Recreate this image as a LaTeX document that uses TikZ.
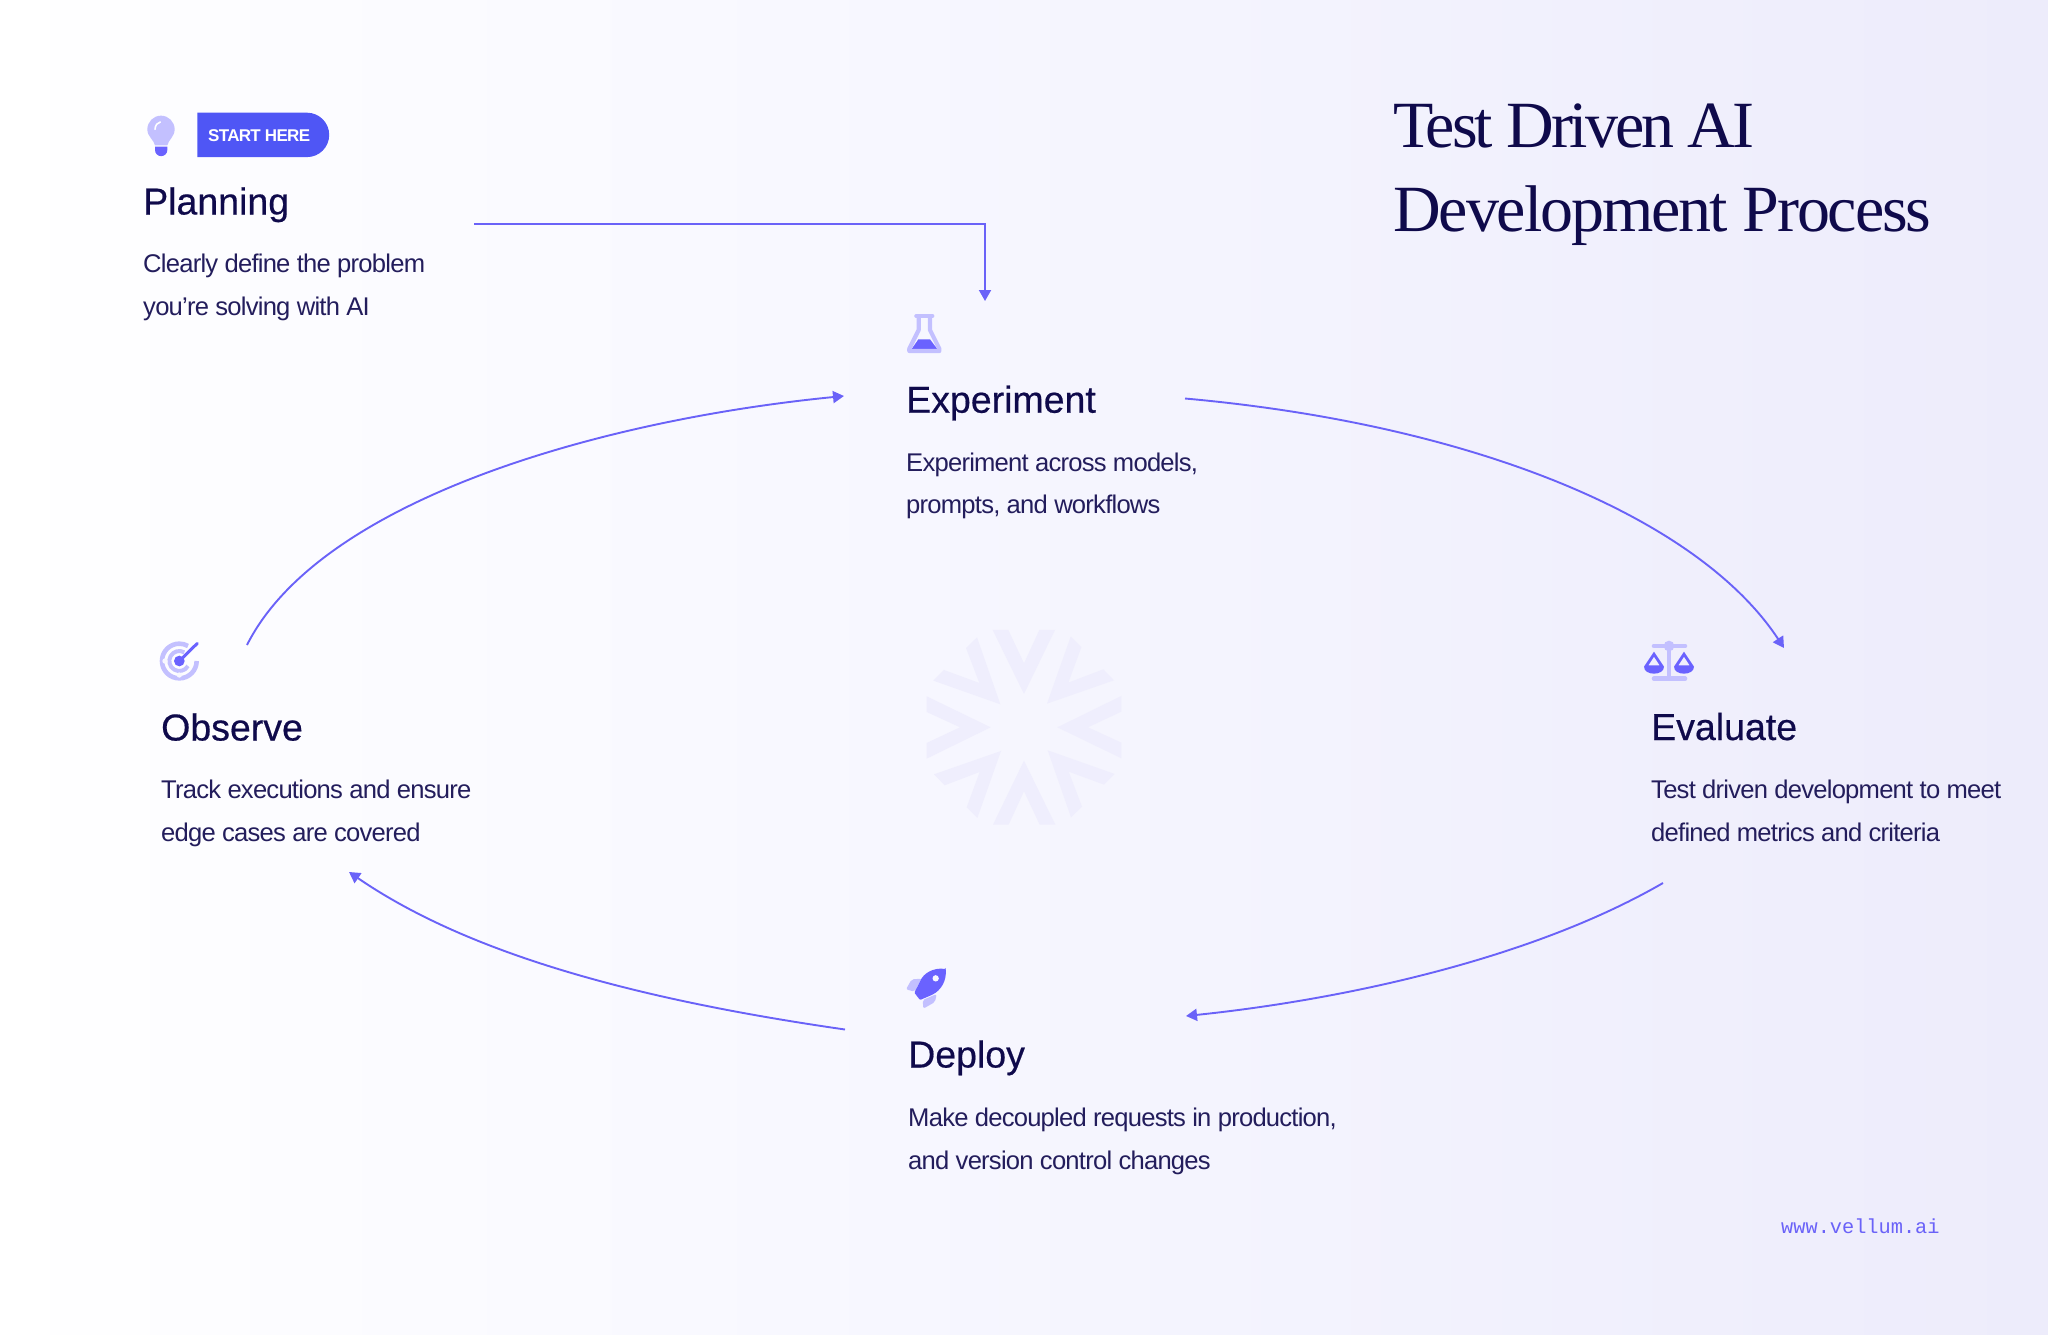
\documentclass[tikz,border=0pt]{standalone}
\usepackage{fontspec}
\setmainfont{Liberation Sans}
\newfontfamily\bodyfont[LetterSpace=-3.0]{Liberation Sans}
\newfontfamily\headfont[FakeBold=0.45]{Liberation Sans}
\newfontfamily\badgefont[LetterSpace=-4]{Liberation Sans Bold}
\newfontfamily\titlefonta[LetterSpace=-4.66]{Liberation Serif}
\newfontfamily\titlefontb[LetterSpace=-3.15]{Liberation Serif}
\newfontfamily\urlfont{Liberation Mono}
\usetikzlibrary{arrows.meta,calc}
\definecolor{ink}{HTML}{0F0A4B}
\definecolor{bodyink}{HTML}{231D5C}
\definecolor{flow}{HTML}{6A62F8}
\definecolor{iconlight}{HTML}{C3C0FF}
\definecolor{icondark}{HTML}{6A62FF}
\definecolor{badgeblue}{HTML}{4F56F5}
\definecolor{logotint}{HTML}{EFEEFD}
\definecolor{holetint}{HTML}{F8F8FF}
\definecolor{gradA}{HTML}{FCFCFF}
\definecolor{gradB}{HTML}{F8F8FF}
\definecolor{gradC}{HTML}{F4F4FE}
\definecolor{gradD}{HTML}{EFEEFC}
\definecolor{gradE}{HTML}{EDECFB}
\pgfdeclarehorizontalshading{pagegrad}{100bp}{
  color(0bp)=(white);
  color(25bp)=(white);
  color(32.3bp)=(gradA);
  color(44.5bp)=(gradB);
  color(54.3bp)=(gradC);
  color(69bp)=(gradD);
  color(75bp)=(gradE);
  color(100bp)=(gradE)}
\tikzset{
  headtext/.style={anchor=base west,inner sep=0pt,text=ink,font=\fontsize{37.5}{37}\selectfont\headfont},
  bodytext/.style={anchor=base west,inner sep=0pt,text=bodyink,font=\fontsize{25.6}{43}\selectfont\bodyfont},
  titletexta/.style={anchor=base west,inner sep=0pt,text=ink,font=\fontsize{66}{89}\selectfont\titlefonta},
  titletextb/.style={anchor=base west,inner sep=0pt,text=ink,font=\fontsize{66}{89}\selectfont\titlefontb},
  flowline/.style={draw=flow,line width=1.9pt,-{Stealth[inset=0pt,length=11pt,width=12pt]}},
}
\begin{document}
\begin{tikzpicture}[x=1pt,y=-1pt]
\useasboundingbox (0,0) rectangle (2048,1335);
\shade[shading=pagegrad] (0,0) rectangle (2048,1335);

% logo
\begin{scope}[shift={(1024,727.3)},scale=1/3]
\foreach \a in {0,90,180,270}{
  \fill[logotint,rotate=\a] (-94,-292)--(-47,-292)--(0,-192)--(46,-292)--(93,-292)--(0,-100)--cycle;
  \fill[logotint,rotate=\a] (140,-272)--(172,-240)--(133,-134)--(238,-174)--(270,-141)--(69,-71)--cycle;
}
\end{scope}

% title
\node[titletexta] (title1) at (1393,147.5) {Test Driven AI};
\node[titletextb] (title2) at (1393,231) {Development Process};

% planning
\begin{scope}[shift={(120,90)},scale=1/3]
  \fill[iconlight] (82,118) arc[start angle=180,end angle=360,radius=41]
     .. controls (164,140) and (145,150) .. (142,166) -- (105,166) .. controls (102,150) and (82,140) .. (82,118) -- cycle;
  \fill[icondark] (105,170) -- (142,170) -- (142,180) arc[start angle=0,end angle=180,radius=18.5] -- cycle;
  \draw[white,line width=1.6pt,line cap=round] (105,118) .. controls (106,105) and (112,98) .. (121,96);
\end{scope}
\fill[badgeblue] (197.3,112.7) -- (307,112.7) arc[start angle=-90,end angle=90,radius=22.2] -- (197.3,157.1) -- cycle;
\node[anchor=base west,inner sep=0pt,text=white,font=\fontsize{17}{17}\selectfont\badgefont] (badgetext) at (208,142) {START HERE};
\node[headtext] (planning) at (143,214.5) {Planning};
\node[bodytext] (planbody1) at (143,272) {Clearly define the problem};
\node[bodytext] (planbody2) at (143,315) {you’re solving with AI};

% experiment
\begin{scope}[shift={(880,280)},scale=1/3]
  \fill[icondark] (115,178)--(150,178)--(172,207)--(95,207)--cycle;
  \draw[iconlight,line width=4.2pt,line cap=round,line join=round] (109,108)--(157,108);
  \draw[iconlight,line width=4.2pt,line join=round] (116,108)--(116,150)--(88,206)--(88,213)--(178,213)--(178,206)--(150,150)--(150,108);
\end{scope}
\node[headtext] (experiment) at (906,412.7) {Experiment};
\node[bodytext] (expbody1) at (906,471.5) {Experiment across models,};
\node[bodytext] (expbody2) at (906,513) {prompts, and workflows};

% evaluate
\begin{scope}[shift={(1620,620)},scale=1/3]
  \draw[iconlight,line width=4.6pt,line cap=round] (102,78)--(195,78);
  \fill[iconlight] (147,78) circle (16);
  \draw[iconlight,line width=3.4pt] (147,78)--(147,175);
  \draw[iconlight,line width=4.6pt,line cap=round] (102,176)--(195,176);
  \foreach \dx in {0,90}{
    \fill[icondark,even odd rule] (102+\dx,95) -- (72+\dx,140) .. controls (72+\dx,168) and (132+\dx,168) .. (132+\dx,140) -- cycle
       (102+\dx,110) -- (85+\dx,136) -- (119+\dx,136) -- cycle;
  }
\end{scope}
\node[headtext] (evaluate) at (1651,740) {Evaluate};
\node[bodytext] (evalbody1) at (1651,798) {Test driven development to meet};
\node[bodytext] (evalbody2) at (1651,841) {defined metrics and criteria};

% observe
\begin{scope}[shift={(140,620)},scale=1/3]
  \coordinate (rc) at (118,123);
  \draw[iconlight,line width=4.6pt] (170,123) arc[start angle=0,end angle=300,radius=52];
  \draw[iconlight,line width=4pt] ($(rc)+(30:30)$) arc[start angle=30,end angle=300,radius=30];
  \fill[holetint] (75,123) circle (8);
  \fill[holetint] (118,165) circle (8);
  \draw[icondark,line width=3pt,line cap=round] (118,123)--(172,70);
  \fill[icondark] (118,123) circle (16);
\end{scope}
\node[headtext] (observe) at (161,740.5) {Observe};
\node[bodytext] (obsbody1) at (161,798) {Track executions and ensure};
\node[bodytext] (obsbody2) at (161,841) {edge cases are covered};

% deploy
\begin{scope}[shift={(880,950)},scale=1/3]
  \fill[iconlight,rounded corners=2pt] (78,118)--(95,88)--(125,86)--(104,125)--cycle;
  \fill[iconlight,rounded corners=2pt] (130,176)--(128,150)--(170,132)--(165,156)--cycle;
  \fill[icondark,rounded corners=1pt] (197,57) .. controls (160,52) and (130,70) .. (120,95) -- (103,128) -- (120,150) -- (155,135) .. controls (185,120) and (200,90) .. (197,57) -- cycle;
  \fill[holetint] (167,85) circle (9.5);
\end{scope}
\node[headtext] (deploy) at (908,1067.5) {Deploy};
\node[bodytext] (depbody1) at (908,1126) {Make decoupled requests in production,};
\node[bodytext] (depbody2) at (908,1169) {and version control changes};

% url
\node[anchor=base west,inner sep=0pt,text=flow,font=\fontsize{20.3}{20}\selectfont\urlfont] (url) at (1781,1233.7) {www.vellum.ai};

% connector ends
\coordinate (planOut) at (474,224);
\coordinate (expIn) at (985,301);
\coordinate (expOut) at (1185,398.5);
\coordinate (evalIn) at (1784,648);
\coordinate (evalOut) at (1663,883);
\coordinate (depIn) at (1186,1016);
\coordinate (depOut) at (845,1029.5);
\coordinate (obsIn) at (349,872);
\coordinate (obsOut) at (247,645);
\coordinate (expIn2) at (844,396);

\draw[flowline] (planOut) -| (expIn);
\draw[flowline] (expOut) .. controls (1480,425) and (1700,520) .. (evalIn);
\draw[flowline] (evalOut) .. controls (1530,960) and (1340,1000) .. (depIn);
\draw[flowline] (depOut) .. controls (640,1000) and (470,955) .. (obsIn);
\draw[flowline] (obsOut) .. controls (320,500) and (600,420) .. (expIn2);
\end{tikzpicture}
\end{document}
